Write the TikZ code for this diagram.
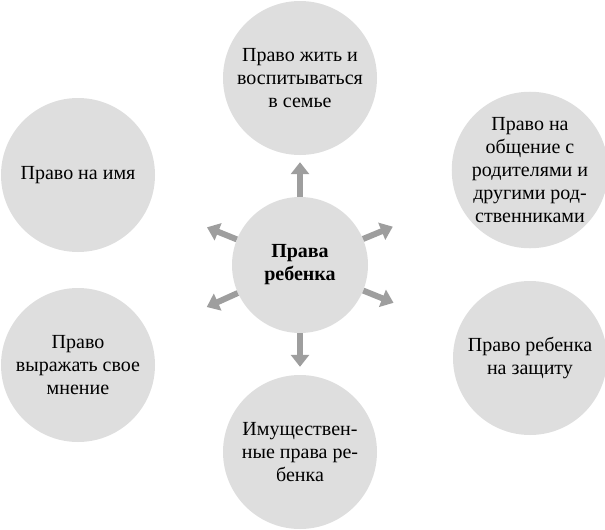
\documentclass[tikz,border=0pt]{standalone}
\usepackage{fontspec}
\setmainfont{Liberation Serif}
\usetikzlibrary{arrows.meta}
\usetikzlibrary{positioning}

\begin{document}
\begin{tikzpicture}[x=1pt, y=-1pt,
        topic/.style={circle, fill=black!13, minimum size=154pt, align=center, font=\fontsize{20}{23}\selectfont, inner sep=0pt},
        hub/.style={circle, fill=black!13, minimum size=136pt, align=center, font=\fontsize{20}{23}\selectfont\bfseries},
        arrow/.style={-{Triangle[width=18pt,length=12pt]}, line width=6pt, black!38},
    ]
    \useasboundingbox (0,0) rectangle (605,530);
    \node[hub] (kid) at (300,265) {Права\\ребенка};
    \node[topic] (fam) at (300,78) {Право жить и\\воспитываться\\в семье};
    \node[topic] (rel) at (530,170) {Право на\\общение с\\родителями и\\другими род-\\ственниками};
    \node[topic] (def) at (530,358) {Право ребенка\\на защиту};
    \node[topic] (prop) at (300,452) {Имуществен-\\ные права ре-\\бенка};
    \node[topic] (opin) at (78,365) {Право\\выражать свое\\мнение};
    \node[topic] (name) at (78,175) {Право на имя};
    \draw[arrow, shorten >=7pt] (kid) -- (fam);
    \draw[arrow, shorten >=70pt] (kid) -- (rel);
    \draw[arrow, shorten >=70pt] (kid) -- (def);
    \draw[arrow, shorten >=8pt] (kid) -- (prop);
    \draw[arrow, shorten >=64pt] (kid) -- (opin);
    \draw[arrow, shorten >=62pt] (kid) -- (name);
\end{tikzpicture}
\end{document}
